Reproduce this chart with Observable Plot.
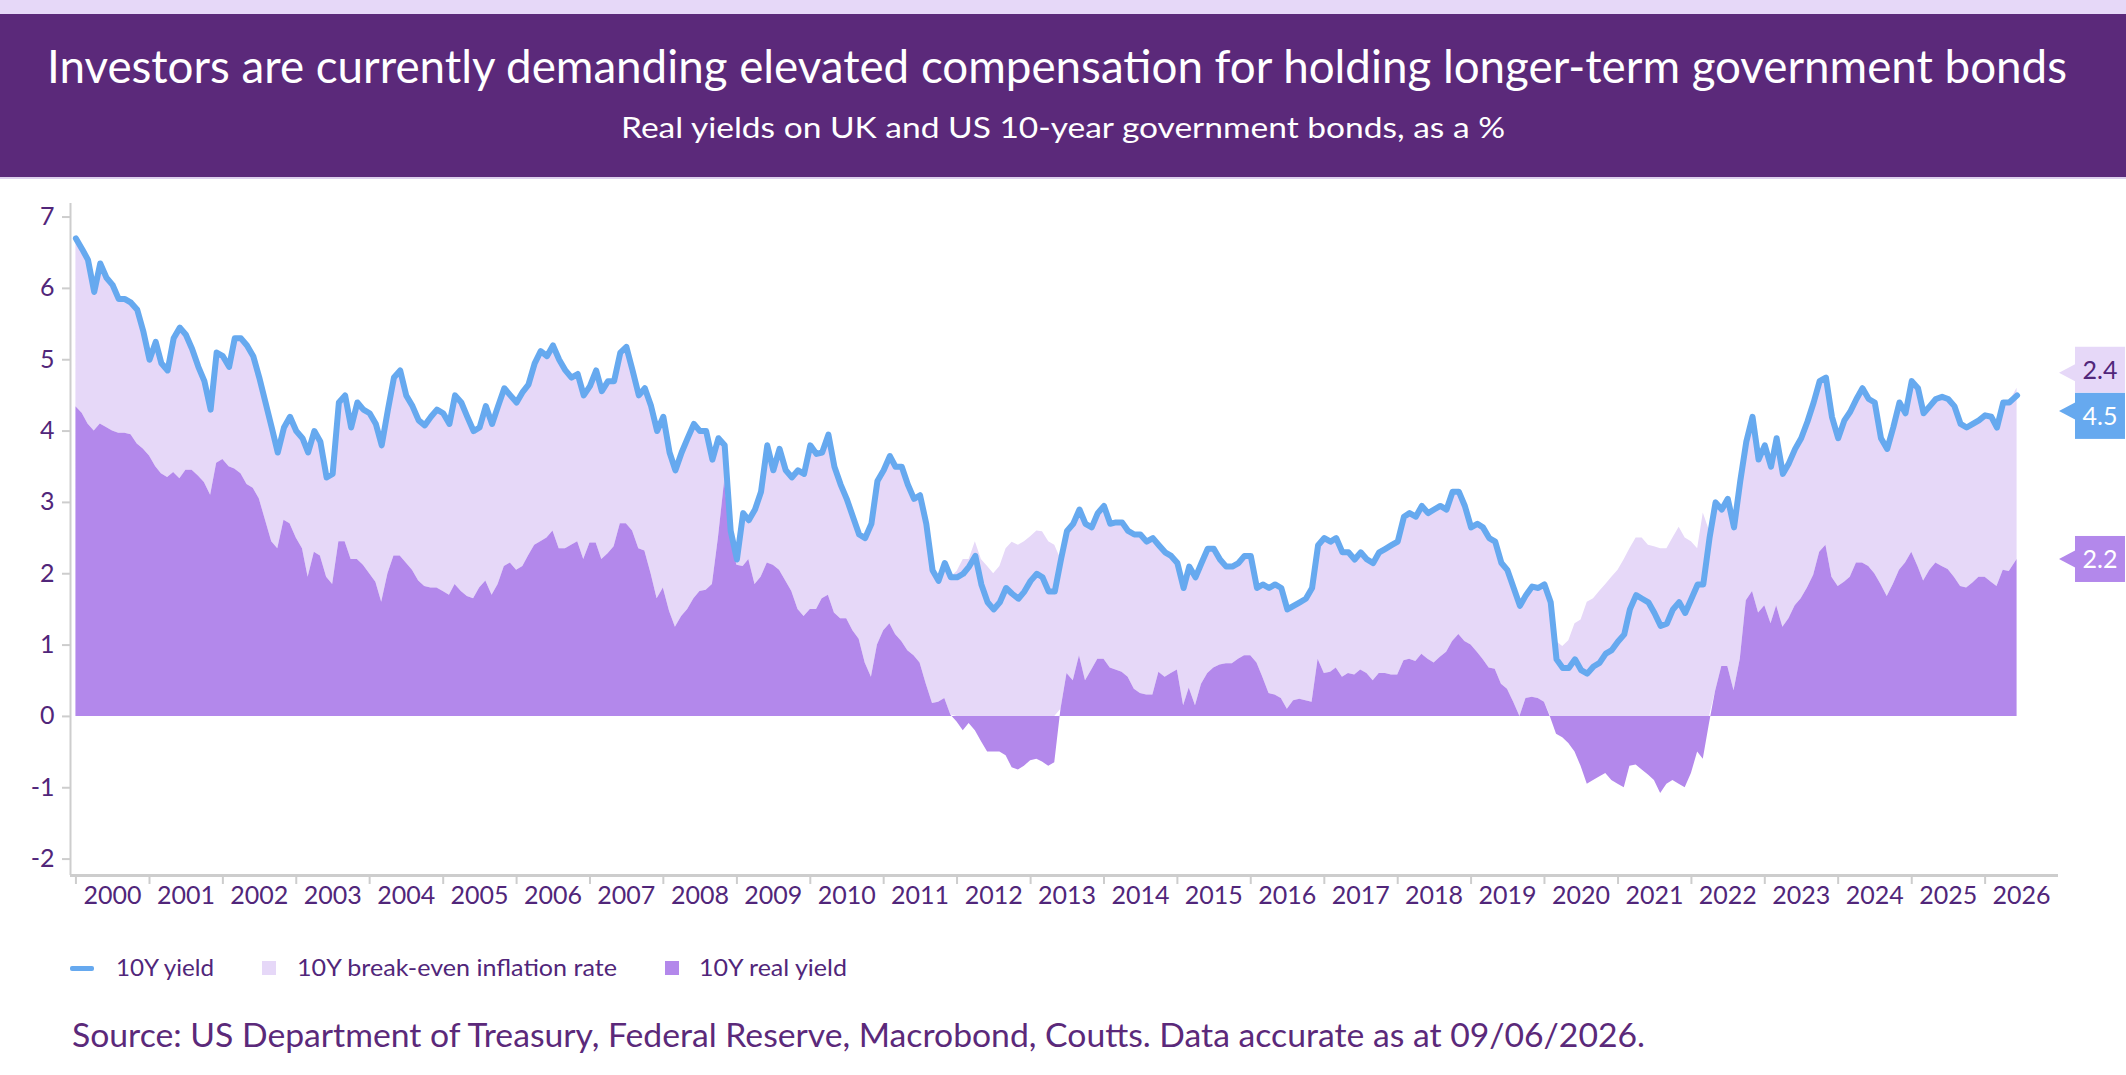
<!DOCTYPE html>
<html><head><meta charset="utf-8">
<script src="https://cdn.jsdelivr.net/npm/d3@7"></script>
<script src="https://cdn.jsdelivr.net/npm/@observablehq/plot@0.6"></script>
<style>
html,body{margin:0;padding:0;background:#fff;}
#page{position:relative;width:2126px;height:1075px;overflow:hidden;font-family:Lato,"Noto Sans",sans-serif;}
#chart{position:absolute;left:0;top:177px;}
.ov{position:absolute;left:0;}
</style></head><body><div id="page">
<svg class="ov" style="top:0" width="2126" height="180" font-family="Lato, 'Noto Sans', sans-serif">
  <rect x="0" y="0" width="2126" height="14" fill="#e6d8f8"/>
  <rect x="0" y="14" width="2126" height="163" fill="#5b297a"/>
  <rect x="0" y="177" width="2126" height="2" fill="#ddd0ee"/>
  <text x="1057" y="83" text-anchor="middle" font-size="46" fill="#ffffff" textLength="2020" lengthAdjust="spacingAndGlyphs">Investors are currently demanding elevated compensation for holding longer-term government bonds</text>
  <text x="1063" y="138" text-anchor="middle" font-size="29" fill="#ffffff" textLength="884" lengthAdjust="spacingAndGlyphs">Real yields on UK and US 10-year government bonds, as a %</text>
</svg>
<div id="chart"></div>
<svg class="ov" style="top:937px" width="2126" height="138" font-family="Lato, 'Noto Sans', sans-serif">
  <rect x="70" y="29" width="24" height="5" rx="2" fill="#66a9ef"/>
  <text x="116" y="39" font-size="24" fill="#51267a" textLength="98" lengthAdjust="spacingAndGlyphs">10Y yield</text>
  <rect x="262" y="24" width="14" height="14" fill="#e6d8f8"/>
  <text x="297" y="39" font-size="24" fill="#51267a" textLength="320" lengthAdjust="spacingAndGlyphs">10Y break-even inflation rate</text>
  <rect x="665" y="24" width="14" height="14" fill="#b388eb"/>
  <text x="699" y="39" font-size="24" fill="#51267a" textLength="148" lengthAdjust="spacingAndGlyphs">10Y real yield</text>
  <text x="72" y="110" font-size="33" fill="#5b297a" textLength="1573" lengthAdjust="spacingAndGlyphs">Source: US Department of Treasury, Federal Reserve, Macrobond, Coutts. Data accurate as at 09/06/2026.</text>
</svg>
</div>
<script>
// Monthly readings, January 2000 to June 2026 (last point = 9 June 2026)
const yield10y = [
  6.7, 6.55, 6.4, 5.95, 6.35, 6.15, 6.05, 5.85, 5.85, 5.8, 5.7, 5.4,      // 2000
  5.0, 5.25, 4.95, 4.85, 5.3, 5.45, 5.35, 5.15, 4.9, 4.7, 4.3, 5.1,       // 2001
  5.05, 4.9, 5.3, 5.3, 5.2, 5.05, 4.75, 4.4, 4.05, 3.7, 4.05, 4.2,        // 2002
  4.0, 3.9, 3.7, 4.0, 3.85, 3.35, 3.4, 4.4, 4.5, 4.05, 4.4, 4.3,          // 2003
  4.25, 4.1, 3.8, 4.3, 4.75, 4.85, 4.5, 4.35, 4.15, 4.08, 4.2, 4.3,       // 2004
  4.25, 4.1, 4.5, 4.4, 4.2, 4.0, 4.05, 4.35, 4.1, 4.35, 4.6, 4.5,         // 2005
  4.4, 4.55, 4.65, 4.95, 5.12, 5.05, 5.2, 5.0, 4.85, 4.75, 4.8, 4.5,      // 2006
  4.63, 4.85, 4.56, 4.7, 4.7, 5.1, 5.18, 4.85, 4.5, 4.6, 4.35, 4.0,       // 2007
  4.2, 3.7, 3.45, 3.7, 3.9, 4.1, 4.0, 4.0, 3.6, 3.9, 3.8, 2.6,            // 2008
  2.2, 2.85, 2.75, 2.9, 3.15, 3.8, 3.45, 3.75, 3.45, 3.35, 3.45, 3.4,     // 2009
  3.8, 3.68, 3.7, 3.95, 3.5, 3.25, 3.05, 2.8, 2.55, 2.5, 2.7, 3.3,        // 2010
  3.45, 3.65, 3.5, 3.5, 3.25, 3.05, 3.1, 2.7, 2.05, 1.9, 2.15, 1.95,      // 2011
  1.95, 2.0, 2.1, 2.25, 1.85, 1.6, 1.5, 1.6, 1.8, 1.72, 1.65, 1.75,       // 2012
  1.9, 2.0, 1.95, 1.75, 1.75, 2.2, 2.6, 2.7, 2.9, 2.7, 2.65, 2.85,        // 2013
  2.95, 2.7, 2.72, 2.72, 2.6, 2.55, 2.55, 2.45, 2.5, 2.4, 2.3, 2.25,      // 2014
  2.15, 1.8, 2.1, 1.95, 2.15, 2.35, 2.35, 2.2, 2.1, 2.1, 2.15, 2.25,      // 2015
  2.25, 1.8, 1.85, 1.8, 1.85, 1.8, 1.5, 1.55, 1.6, 1.65, 1.8, 2.4,        // 2016
  2.5, 2.45, 2.5, 2.3, 2.3, 2.2, 2.3, 2.2, 2.15, 2.3, 2.35, 2.4,          // 2017
  2.45, 2.8, 2.85, 2.8, 2.95, 2.85, 2.9, 2.95, 2.9, 3.15, 3.15, 2.95,     // 2018
  2.65, 2.7, 2.65, 2.5, 2.45, 2.15, 2.05, 1.8, 1.55, 1.7, 1.82, 1.8,      // 2019
  1.85, 1.6, 0.8, 0.68, 0.68, 0.8, 0.65, 0.6, 0.7, 0.75, 0.88, 0.93,      // 2020
  1.05, 1.15, 1.5, 1.7, 1.65, 1.6, 1.45, 1.27, 1.3, 1.5, 1.6, 1.45,       // 2021
  1.65, 1.85, 1.85, 2.5, 3.0, 2.9, 3.05, 2.65, 3.3, 3.85, 4.2, 3.6,       // 2022
  3.8, 3.5, 3.9, 3.4, 3.55, 3.75, 3.9, 4.13, 4.4, 4.7, 4.75, 4.2,         // 2023
  3.9, 4.15, 4.27, 4.45, 4.6, 4.45, 4.4, 3.9, 3.75, 4.05, 4.4, 4.25,      // 2024
  4.7, 4.6, 4.25, 4.35, 4.45, 4.48, 4.45, 4.35, 4.1, 4.05, 4.1, 4.15,     // 2025
  4.22, 4.2, 4.05, 4.4, 4.4, 4.5                                          // 2026
];
const breakeven10y = [
  2.36, 2.3, 2.3, 1.95, 2.25, 2.1, 2.05, 1.88, 1.88, 1.85, 1.88, 1.65,    // 2000
  1.35, 1.75, 1.55, 1.5, 1.88, 2.12, 1.9, 1.7, 1.53, 1.42, 1.2, 1.55,     // 2001
  1.45, 1.4, 1.83, 1.9, 1.95, 1.85, 1.7, 1.65, 1.6, 1.35, 1.3, 1.5,       // 2002
  1.5, 1.55, 1.75, 1.7, 1.6, 1.4, 1.55, 1.95, 2.05, 1.85, 2.2, 2.18,      // 2003
  2.25, 2.22, 2.2, 2.3, 2.5, 2.6, 2.35, 2.3, 2.25, 2.26, 2.4, 2.5,        // 2004
  2.5, 2.4, 2.65, 2.65, 2.52, 2.35, 2.25, 2.45, 2.4, 2.5, 2.5, 2.35,      // 2005
  2.35, 2.45, 2.4, 2.55, 2.67, 2.55, 2.6, 2.65, 2.5, 2.35, 2.35, 2.3,     // 2006
  2.2, 2.42, 2.36, 2.42, 2.32, 2.4, 2.48, 2.25, 2.15, 2.28, 2.35, 2.35,   // 2007
  2.4, 2.23, 2.2, 2.3, 2.4, 2.45, 2.25, 2.23, 1.75, 1.4, 0.5, 0.1,        // 2008
  0.08, 0.75, 0.55, 1.05, 1.2, 1.65, 1.33, 1.7, 1.55, 1.6, 1.95, 2.0,     // 2009
  2.3, 2.18, 2.05, 2.25, 2.05, 1.88, 1.68, 1.6, 1.47, 1.75, 2.15, 2.3,    // 2010
  2.25, 2.35, 2.35, 2.45, 2.33, 2.2, 2.35, 2.25, 1.87, 1.7, 1.9, 1.93,    // 2011
  2.03, 2.2, 2.2, 2.45, 2.2, 2.1, 2.0, 2.1, 2.35, 2.44, 2.4, 2.45,        // 2012
  2.52, 2.6, 2.59, 2.45, 2.4, 2.1, 2.0, 2.2, 2.05, 2.2, 2.0, 2.05,        // 2013
  2.15, 2.02, 2.07, 2.1, 2.05, 2.17, 2.23, 2.15, 2.2, 1.78, 1.75, 1.65,   // 2014
  1.5, 1.65, 1.7, 1.8, 1.7, 1.75, 1.67, 1.48, 1.36, 1.36, 1.35, 1.4,      // 2015
  1.4, 1.05, 1.3, 1.48, 1.55, 1.55, 1.4, 1.33, 1.36, 1.43, 1.6, 1.6,      // 2016
  1.9, 1.83, 1.82, 1.75, 1.7, 1.62, 1.65, 1.6, 1.65, 1.7, 1.75, 1.82,     // 2017
  1.87, 2.02, 2.05, 2.03, 2.08, 2.05, 2.15, 2.12, 2.0, 2.1, 2.0, 1.9,     // 2018
  1.65, 1.8, 1.85, 1.82, 1.79, 1.7, 1.67, 1.6, 1.55, 1.45, 1.55, 1.55,    // 2019
  1.65, 1.62, 1.05, 0.98, 1.06, 1.3, 1.35, 1.6, 1.65, 1.75, 1.85, 1.95,   // 2020
  2.05, 2.2, 2.35, 2.5, 2.5, 2.4, 2.38, 2.35, 2.35, 2.5, 2.65, 2.5,       // 2021
  2.45, 2.35, 2.85, 2.6, 2.65, 2.2, 2.35, 2.29, 2.5, 2.23, 2.45, 2.15,    // 2022
  2.25, 2.2, 2.35, 2.15, 2.18, 2.2, 2.25, 2.33, 2.42, 2.4, 2.35, 2.25,    // 2023
  2.08, 2.27, 2.32, 2.3, 2.45, 2.35, 2.4, 2.05, 2.07, 2.2, 2.35, 2.1,     // 2024
  2.4, 2.5, 2.35, 2.3, 2.3, 2.38, 2.39, 2.4, 2.28, 2.25, 2.23, 2.2,       // 2025
  2.27, 2.32, 2.23, 2.35, 2.37, 2.4                                        // 2026
];
const realYield10y = [
  4.34, 4.25, 4.1, 4.0, 4.1, 4.05, 4.0, 3.97, 3.97, 3.95, 3.82, 3.75,     // 2000
  3.65, 3.5, 3.4, 3.35, 3.42, 3.33, 3.45, 3.45, 3.37, 3.28, 3.1, 3.55,    // 2001
  3.6, 3.5, 3.47, 3.4, 3.25, 3.2, 3.05, 2.75, 2.45, 2.35, 2.75, 2.7,      // 2002
  2.5, 2.35, 1.95, 2.3, 2.25, 1.95, 1.85, 2.45, 2.45, 2.2, 2.2, 2.12,     // 2003
  2.0, 1.88, 1.6, 2.0, 2.25, 2.25, 2.15, 2.05, 1.9, 1.82, 1.8, 1.8,       // 2004
  1.75, 1.7, 1.85, 1.75, 1.68, 1.65, 1.8, 1.9, 1.7, 1.85, 2.1, 2.15,      // 2005
  2.05, 2.1, 2.25, 2.4, 2.45, 2.5, 2.6, 2.35, 2.35, 2.4, 2.45, 2.2,       // 2006
  2.43, 2.43, 2.2, 2.28, 2.38, 2.7, 2.7, 2.6, 2.35, 2.32, 2.0, 1.65,      // 2007
  1.8, 1.47, 1.25, 1.4, 1.5, 1.65, 1.75, 1.77, 1.85, 2.5, 3.3, 2.5,       // 2008
  2.12, 2.1, 2.2, 1.85, 1.95, 2.15, 2.12, 2.05, 1.9, 1.75, 1.5, 1.4,      // 2009
  1.5, 1.5, 1.65, 1.7, 1.45, 1.37, 1.37, 1.2, 1.08, 0.75, 0.55, 1.0,      // 2010
  1.2, 1.3, 1.15, 1.05, 0.92, 0.85, 0.75, 0.45, 0.18, 0.2, 0.25, 0.02,    // 2011
  -0.08, -0.2, -0.1, -0.2, -0.35, -0.5, -0.5, -0.5, -0.55, -0.72, -0.75, -0.7, // 2012
  -0.62, -0.6, -0.64, -0.7, -0.65, 0.1, 0.6, 0.5, 0.85, 0.5, 0.65, 0.8,   // 2013
  0.8, 0.68, 0.65, 0.62, 0.55, 0.38, 0.32, 0.3, 0.3, 0.62, 0.55, 0.6,     // 2014
  0.65, 0.15, 0.4, 0.15, 0.45, 0.6, 0.68, 0.72, 0.74, 0.74, 0.8, 0.85,    // 2015
  0.85, 0.75, 0.55, 0.32, 0.3, 0.25, 0.1, 0.22, 0.24, 0.22, 0.2, 0.8,     // 2016
  0.6, 0.62, 0.68, 0.55, 0.6, 0.58, 0.65, 0.6, 0.5, 0.6, 0.6, 0.58,       // 2017
  0.58, 0.78, 0.8, 0.77, 0.87, 0.8, 0.75, 0.83, 0.9, 1.05, 1.15, 1.05,    // 2018
  1.0, 0.9, 0.8, 0.68, 0.66, 0.45, 0.38, 0.2, 0.0, 0.25, 0.27, 0.25,      // 2019
  0.2, -0.02, -0.25, -0.3, -0.38, -0.5, -0.7, -0.95, -0.9, -0.85, -0.8, -0.9, // 2020
  -0.95, -1.0, -0.7, -0.68, -0.75, -0.82, -0.9, -1.08, -0.95, -0.9, -0.95, -1.0, // 2021
  -0.8, -0.5, -0.6, -0.1, 0.35, 0.7, 0.7, 0.36, 0.8, 1.62, 1.75, 1.45,    // 2022
  1.55, 1.3, 1.55, 1.25, 1.37, 1.55, 1.65, 1.8, 1.98, 2.3, 2.4, 1.95,     // 2023
  1.82, 1.88, 1.95, 2.15, 2.15, 2.1, 2.0, 1.85, 1.68, 1.85, 2.05, 2.15,   // 2024
  2.3, 2.1, 1.9, 2.05, 2.15, 2.1, 2.06, 1.95, 1.82, 1.8, 1.87, 1.95,      // 2025
  1.95, 1.88, 1.82, 2.05, 2.03, 2.2                                        // 2026
];
const yearLabels = d3.range(2000, 2027);
const yTicks = [-2, -1, 0, 1, 2, 3, 4, 5, 6, 7];
const seriesNames = ["10Y yield", "10Y break-even inflation rate", "10Y real yield"];

const lastDate = new Date(2026, 5, 9);
const dates = yield10y.map((_, i) => i === yield10y.length - 1 ? lastDate : new Date(2000, i, 1));
const rows = dates.map((date, i) => ({
  date, nominal: yield10y[i], be: breakeven10y[i], real: realYield10y[i]
}));

const purple = "#51267a";
const grey = "#cdcdcd";
const xDomain = [new Date(1999, 11, 5), new Date(2027, 0, 1)];
const yDomain = [-2.23, 7.19];

const chart = Plot.plot({
  width: 2126, height: 760,
  marginLeft: 70, marginRight: 68, marginTop: 26, marginBottom: 62,
  style: {fontFamily: "Lato, 'Noto Sans', sans-serif", fontSize: "24px", color: purple, background: "transparent"},
  x: {domain: xDomain, label: null},
  y: {domain: yDomain, label: null},
  marks: [
    Plot.areaY(rows, {x: "date", y1: d => Math.max(d.real, 0), y2: d => Math.max(d.real, 0) + d.be, fill: "#e6d8f8", curve: "linear"}),
    Plot.areaY(rows, {x: "date", y1: 0, y2: "real", fill: "#b388eb", curve: "linear"}),
    Plot.lineY(rows, {x: "date", y: "nominal", stroke: "#66a9ef", strokeWidth: 6, curve: "linear", strokeLinejoin: "round"}),
    Plot.ruleX([xDomain[0]], {stroke: grey, strokeWidth: 2}),
    Plot.ruleY([yDomain[0]], {stroke: grey, strokeWidth: 3}),
    Plot.axisY({ticks: yTicks, tickSize: 8, tickPadding: 8, stroke: grey, strokeWidth: 2, fill: purple, fontSize: 25, label: null, tickFormat: d => String(d)}),
    Plot.axisX({ticks: yearLabels.map(y => new Date(y, 0, 1)), tickSize: 9, stroke: grey, strokeWidth: 2, tickFormat: () => "", label: null}),
    Plot.text(yearLabels, {x: y => new Date(y, 6, 1), text: y => String(y), frameAnchor: "bottom", dy: 28, fontSize: 25, fill: purple})
  ]
});
document.getElementById("chart").appendChild(chart);

// End-value flags on the right
const svg = d3.select(chart);
const yS = chart.scale("y");
const W = 2126;
const last = rows[rows.length - 1];
const fmt = d3.format(".1f");
function flag(cy, tipY, fill, textFill, label) {
  const g = svg.append("g");
  g.append("path").attr("d", `M${W - 67},${tipY} L${W - 50},${tipY - 9} L${W - 50},${tipY + 9} Z`).attr("fill", fill);
  g.append("rect").attr("x", W - 51).attr("y", cy - 23).attr("width", 50).attr("height", 46).attr("fill", fill);
  g.append("text").attr("x", W - 26).attr("y", cy).attr("dy", "0.36em").attr("text-anchor", "middle")
    .attr("font-size", 25).attr("fill", textFill).attr("font-family", "Lato, 'Noto Sans', sans-serif").text(label);
}
const beTop = yS.apply(Math.max(last.real, 0) + last.be);
flag(beTop - 18, beTop - 15, "#e6d8f8", purple, fmt(last.be));
const nomY = yS.apply(last.nominal);
flag(nomY + 21, nomY + 16, "#66a9ef", "#ffffff", fmt(last.nominal));
const realY = yS.apply(last.real);
flag(realY, realY, "#b388eb", "#ffffff", fmt(last.real));
</script>
</body></html>
